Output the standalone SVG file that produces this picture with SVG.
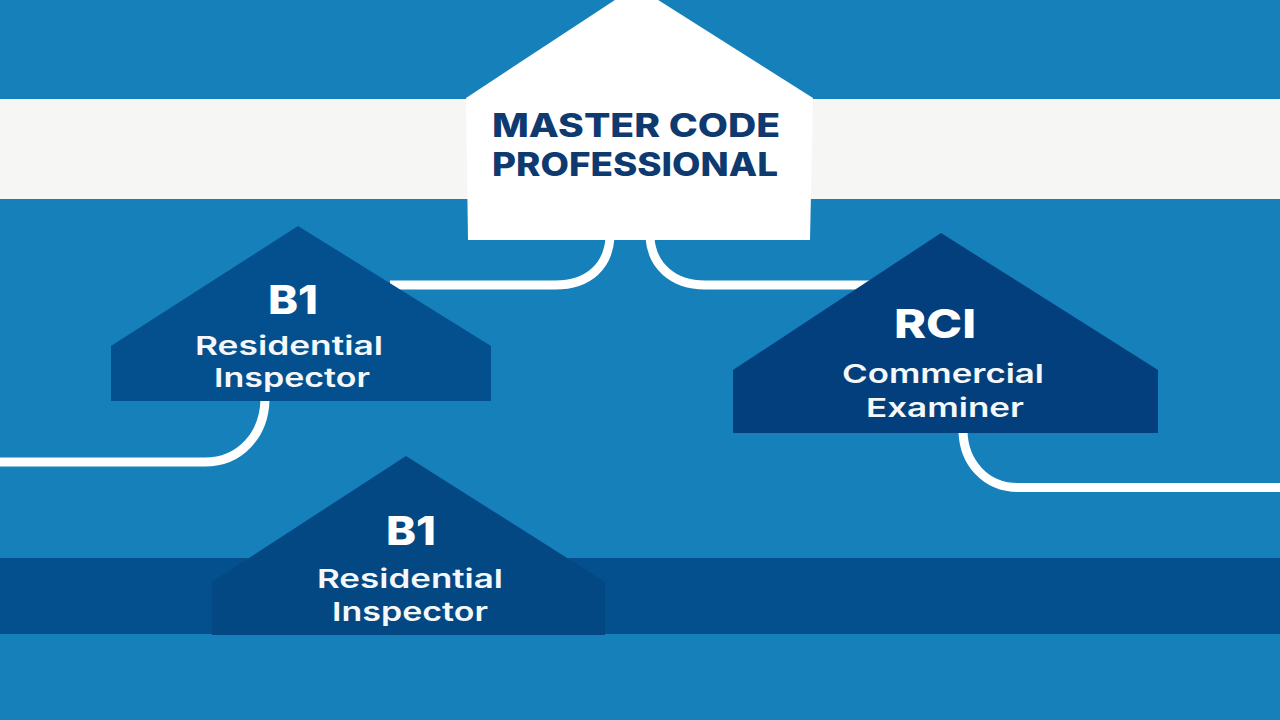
<svg xmlns="http://www.w3.org/2000/svg" width="1280" height="720" viewBox="0 0 1280 720">
<style>
text{font-family:Inter,"Open Sans","Liberation Sans",sans-serif;text-anchor:middle}
.c{fill:none;stroke:#fff;stroke-width:9}
.d{fill:#04508f}
.k{fill:#fff;font-weight:800;font-size:40px}
.s{fill:#f4f8fb;font-weight:600;font-size:26px}
.m{fill:#0e3a70;font-weight:800;font-size:32px}
</style>
<rect width="1280" height="720" fill="#1680bb"/>
<rect y="99" width="1280" height="100" fill="#f6f6f5"/>
<rect y="558" width="1280" height="76" fill="#04508f"/>
<g id="connectors">
<path class="c" d="M610 238C608 265 590 285 555 285H390"/>
<path class="c" d="M650 238C652 265 672 285 705 285H872"/>
<path class="c" d="M265 400C264 435 240 462 205 462H0"/>
<path class="c" d="M963 432C964 462 985 487.500 1018 487.500H1280"/>
</g>
<g id="node-master">
<path d="M466 98L618 -2H655L813 98L810 240H468Z" fill="#fff"/>
<text class="m" x="636" y="137" textLength="288" lengthAdjust="spacingAndGlyphs">MASTER CODE</text>
<text class="m" x="635" y="176" textLength="286" lengthAdjust="spacingAndGlyphs">PROFESSIONAL</text>
</g>
<g id="node-b1-upper">
<path class="d" d="M298 226L491 346V401H111V346Z"/>
<text class="k" x="293" y="314" textLength="50" lengthAdjust="spacingAndGlyphs">B1</text>
<text class="s" x="289" y="355" textLength="188" lengthAdjust="spacingAndGlyphs">Residential</text>
<text class="s" x="292" y="387" textLength="156" lengthAdjust="spacingAndGlyphs">Inspector</text>
</g>
<g id="node-rci">
<path d="M941 233L1158 370V433H733V370Z" fill="#033f7c"/>
<text class="k" x="935" y="338" textLength="82" lengthAdjust="spacingAndGlyphs">RCI</text>
<text class="s" x="943" y="383" textLength="202" lengthAdjust="spacingAndGlyphs">Commercial</text>
<text class="s" x="945" y="417" textLength="158" lengthAdjust="spacingAndGlyphs">Examiner</text>
</g>
<g id="node-b1-lower">
<path d="M406 456L605 582V635H212V582Z" fill="#034882"/>
<text class="k" x="411" y="545" textLength="50" lengthAdjust="spacingAndGlyphs">B1</text>
<text class="s" x="410" y="588" textLength="186" lengthAdjust="spacingAndGlyphs">Residential</text>
<text class="s" x="410" y="621" textLength="156" lengthAdjust="spacingAndGlyphs">Inspector</text>
</g>
</svg>
